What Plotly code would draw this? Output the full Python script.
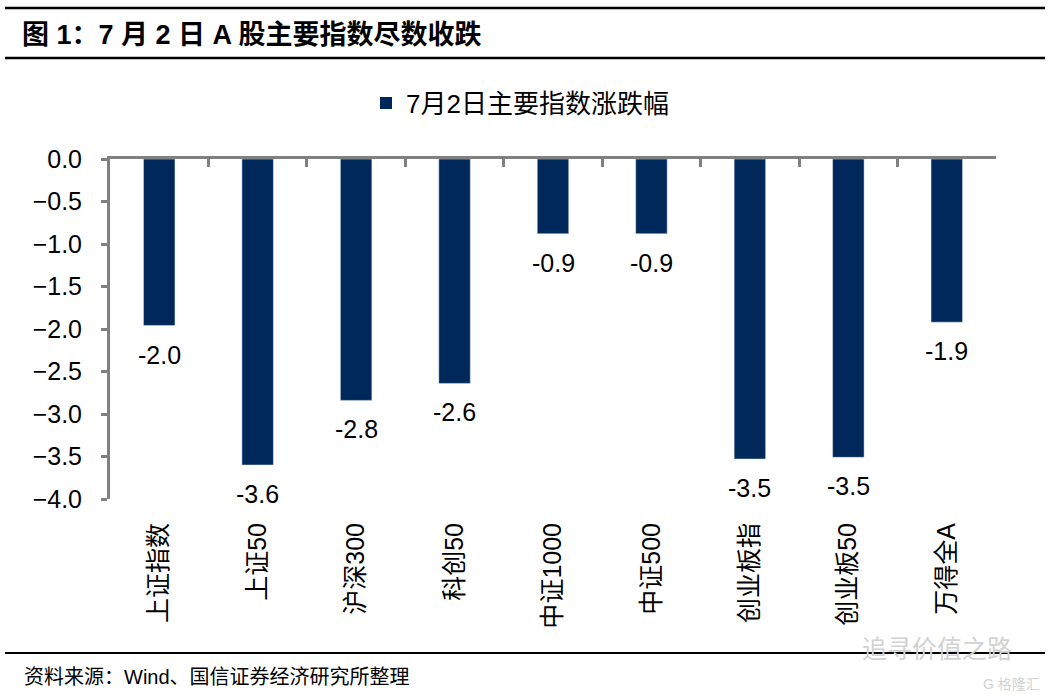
import plotly.graph_objects as go

categories = ["上证指数", "上证50", "沪深300", "科创50", "中证1000", "中证500", "创业板指", "创业板50", "万得全A"]
values = [-1.96, -3.60, -2.84, -2.64, -0.88, -0.88, -3.53, -3.51, -1.92]
series_name = "7月2日主要指数涨跌幅"
y_ticks = [0.0, -0.5, -1.0, -1.5, -2.0, -2.5, -3.0, -3.5, -4.0]

W, H = 1048, 698
L, R, T, B = 110, 52, 159, 199
PW, PH = W - L - R, H - T - B

def px_x(x):
    return (x - L) / PW

def px_y(y):
    return (H - B - y) / PH

FONT = "Liberation Sans, Arial, Noto Sans CJK SC, sans-serif"
NAVY = "#00285A"
GRAY = "#808080"

fig = go.Figure()
fig.add_trace(go.Bar(
    x=categories, y=values, name=series_name,
    marker=dict(color=NAVY, line=dict(width=0)),
    width=0.32, showlegend=True, hoverinfo="x+y",
))
# invisible trace to drive the top (zero) axis with boundary ticks
fig.add_trace(go.Bar(
    x=categories, y=values, xaxis="x2", showlegend=False,
    marker=dict(color="rgba(0,0,0,0)"), hoverinfo="skip", width=0.32,
))

annotations = []
for c, v in zip(categories, values):
    annotations.append(dict(
        x=c, y=v, xref="x", yref="y", text=f"{v:.1f}", showarrow=False,
        yanchor="middle", xanchor="center", yshift=-29,
        font=dict(family=FONT, size=25, color="#000000"),
    ))

# footer / watermark
annotations.append(dict(
    x=px_x(22), y=px_y(677), xref="paper", yref="paper",
    text="资料来源：Wind、国信证券经济研究所整理", showarrow=False,
    xanchor="left", yanchor="middle",
    font=dict(family=FONT, size=20, color="#000000"),
))
annotations.append(dict(
    x=px_x(937), y=px_y(649), xref="paper", yref="paper",
    text="追寻价值之路", showarrow=False, xanchor="center", yanchor="middle",
    font=dict(family=FONT, size=25, color="#d2d2d2"),
))
annotations.append(dict(
    x=px_x(1042), y=px_y(684), xref="paper", yref="paper",
    text="G 格隆汇", showarrow=False, xanchor="right", yanchor="middle",
    font=dict(family=FONT, size=14, color="#d2d2d2"),
))

shapes = []
for yy, w in [(8, 2.5), (58, 2.5), (653, 2)]:
    shapes.append(dict(
        type="line", xref="paper", yref="paper",
        x0=px_x(5), x1=px_x(1045), y0=px_y(yy), y1=px_y(yy),
        line=dict(color="#000000", width=w),
    ))

fig.update_layout(
    width=W, height=H,
    margin=dict(l=L, r=R, t=T, b=B, autoexpand=False),
    paper_bgcolor="white", plot_bgcolor="white",
    font=dict(family=FONT, size=25, color="#000000"),
    title=dict(
        text="<b>图 1：7 月 2 日 A 股主要指数尽数收跌</b>",
        x=22 / W, xanchor="left",
        y=1 - 35 / H, yanchor="middle", yref="container",
        font=dict(family=FONT, size=27, color="#000000"),
    ),
    legend=dict(
        orientation="h", x=px_x(520), xanchor="center",
        y=px_y(103), yanchor="middle",
        font=dict(family=FONT, size=26, color="#000000"),
        itemsizing="constant", bgcolor="rgba(0,0,0,0)",
    ),
    bargap=0.68,
    xaxis=dict(
        type="category", categoryorder="array", categoryarray=categories,
        range=[-0.5, len(categories) - 0.5],
        showline=False, showgrid=False, zeroline=False, ticks="",
        tickangle=-90, ticklabelstandoff=18,
        tickfont=dict(family=FONT, size=25, color="#000000"),
    ),
    xaxis2=dict(
        type="category", categoryorder="array", categoryarray=categories,
        range=[-0.5, len(categories) - 0.5],
        overlaying="x", side="top", anchor="y",
        showline=True, linecolor=GRAY, linewidth=3,
        ticks="inside", tickson="boundaries", ticklen=8, tickwidth=3, tickcolor=GRAY,
        showticklabels=False, showgrid=False, zeroline=False,
    ),
    yaxis=dict(
        range=[-4.0, 0.0], tickvals=y_ticks, tickformat=".1f",
        showline=True, linecolor=GRAY, linewidth=3,
        ticks="outside", ticklen=6, tickwidth=3, tickcolor=GRAY,
        showgrid=False, zeroline=False, ticklabelstandoff=14,
        tickfont=dict(family=FONT, size=25, color="#000000"),
    ),
    annotations=annotations,
    shapes=shapes,
)

fig.write_html(
    "out.html",
    config={"displayModeBar": False},
    post_script="document.body.style.margin='0';",
)
